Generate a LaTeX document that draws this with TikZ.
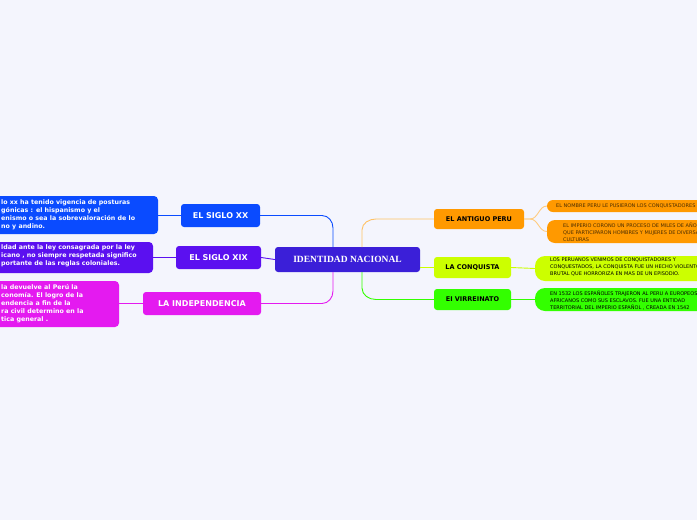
\documentclass[tikz,border=0pt]{standalone}
\usepackage{fontspec}
\setmainfont{DejaVu Sans}
\newfontfamily\serifb{Liberation Serif}
\begin{document}
\begin{tikzpicture}[x=1pt,y=-1pt,
  box/.style={rounded corners=3pt,inner sep=0pt,text=white,font=\bfseries\fontsize{8}{9}\selectfont},
  ltxt/.style={rounded corners=4pt,text=white,font=\bfseries\fontsize{6.3}{8}\selectfont,align=left},
  rtxt/.style={rounded corners=7pt,font=\fontsize{5}{6.6}\selectfont,align=left},
  con/.style={line width=0.9pt}]
\definecolor{bg}{HTML}{F4F5FD}
\definecolor{cen}{HTML}{3B1FD8}
\definecolor{cxx}{HTML}{0A4BFF}
\definecolor{cxix}{HTML}{5B10F0}
\definecolor{cind}{HTML}{E41AF0}
\definecolor{cor}{HTML}{FF9900}
\definecolor{cyg}{HTML}{CCFF00}
\definecolor{cgr}{HTML}{33FF00}
\fill[bg] (0,0) rectangle (697,520);
\useasboundingbox (0,0) rectangle (697,520);
\clip (0,0) rectangle (697,520);
% center
\node[box,fill=cen,minimum width=145,minimum height=25,font=\serifb\bfseries\fontsize{9.5}{11}\selectfont] (c) at (347.5,259.5) {IDENTIDAD NACIONAL};
% left branches
\node[box,fill=cxx,minimum width=79,minimum height=23] (xx) at (220.5,215.5) {EL SIGLO XX};
\node[box,fill=cxix,minimum width=85,minimum height=23] (xix) at (218.5,257.5) {EL SIGLO XIX};
\node[box,fill=cind,minimum width=118,minimum height=23] (ind) at (202,303.5) {LA INDEPENDENCIA};
% left texts
\fill[cxx,rounded corners=4pt] (-10,196) rectangle (158,234);
\node[ltxt,anchor=north west,inner sep=0pt] (txx) at (1,200) {lo xx ha tenido vigencia de posturas\\gónicas : el hispanismo y el\\enismo o sea la sobrevaloración de lo\\no y andino.};
\fill[cxix,rounded corners=4pt] (-10,242) rectangle (153,273);
\node[ltxt,anchor=north west,inner sep=0pt] (txix) at (1,245) {ldad ante la ley consagrada por la ley\\icano , no siempre respetada significo\\portante de las reglas coloniales.};
\fill[cind,rounded corners=4pt] (-10,281) rectangle (119,327);
\node[ltxt,anchor=north west,inner sep=0pt] (tind) at (1,284) {la devuelve al Perú la\\conomía. El logro de la\\endencia a fin de la\\ra civil determino en la\\tica general .};
\coordinate (lxx) at (158,215.5);
\coordinate (lxix) at (153,257.5);
\coordinate (lind) at (119,303.5);
\draw[con,cxx] (lxx) -- (xx.west);
\draw[con,cxix] (lxix) -- (xix.west);
\draw[con,cind] (lind) -- (ind.west);
% center to left
\draw[con,cxx] (xx.east) -- (322,215.5) to[out=0,in=90] (333,228) -- (333,247);
\draw[con,cxix] (xix.east) -- (c.west);
\draw[con,cind] (ind.east) -- (322,303.5) to[out=0,in=-90] (333,291) -- (333,272);
% right branches
\node[box,fill=cor,text=black,minimum width=90,minimum height=20,font=\bfseries\fontsize{6.5}{8}\selectfont] (ap) at (479,219) {EL ANTIGUO PERU};
\node[box,fill=cyg,text=black,minimum width=77,minimum height=21,font=\bfseries\fontsize{6.5}{8}\selectfont] (lc) at (472.5,267.5) {LA CONQUISTA};
\node[box,fill=cgr,text=black,minimum width=77,minimum height=21,font=\bfseries\fontsize{6.5}{8}\selectfont] (vi) at (472.5,299.5) {EI VIRREINATO};
\draw[con,cor!60] (362,247) -- (362,230) to[out=90,in=180] (376,219) -- (ap.west);
\draw[con,cyg] (c.east |- lc.west) -- (lc.west);
\draw[con,cgr] (362,272) -- (362,288) to[out=-90,in=180] (376,299.5) -- (vi.west);
% right texts
\fill[cor,rounded corners=6pt] (547,200) rectangle (710,212);
\node[rtxt,anchor=west,inner sep=0pt,text=black!70!cor] (r1) at (556,206) {EL NOMBRE PERU LE PUSIERON LOS CONQUISTADORES};
\fill[cor,rounded corners=8pt] (547,220) rectangle (710,243);
\node[rtxt,anchor=north west,inner sep=0pt,text=black!70!cor] (r2) at (563,223) {EL IMPERIO CORONO UN PROCESO DE MILES DE AÑOS EN EL\\QUE PARTICIPARON HOMBRES Y MUJERES DE DIVERSAS\\CULTURAS};
\fill[cyg,rounded corners=10pt] (535,256) rectangle (710,281);
\node[rtxt,anchor=north west,inner sep=0pt] (r3) at (550,258) {LOS PERUANOS VENIMOS DE CONQUISTADORES Y\\CONQUESTADOS, LA CONQUISTA FUE UN HECHO VIOLENTO Y\\BRUTAL QUE HORRORIZA EN MAS DE UN EPISODIO.};
\fill[cgr,rounded corners=10pt] (535,288) rectangle (710,311);
\node[rtxt,anchor=north west,inner sep=0pt] (r4) at (550,291) {EN 1532 LOS ESPAÑOLES TRAJERON AL PERU A EUROPEOS Y\\AFRICANOS COMO SUS ESCLAVOS. FUE UNA ENTIDAD\\TERRITORIAL DEL IMPERIO ESPAÑOL , CREADA EN 1542};
\coordinate (o1) at (547,206);
\coordinate (o2) at (547,231.5);
\coordinate (o3) at (535,268.5);
\coordinate (o4) at (535,299.5);
\draw[con,cor!50] (ap.east) -- (530,219) to[out=0,in=180] (o1);
\draw[con,cor!50] (ap.east) -- (530,219) to[out=0,in=180] (o2);
\draw[con,cyg] (lc.east) -- (o3);
\draw[con,cgr] (vi.east) -- (o4);
\end{tikzpicture}
\end{document}
